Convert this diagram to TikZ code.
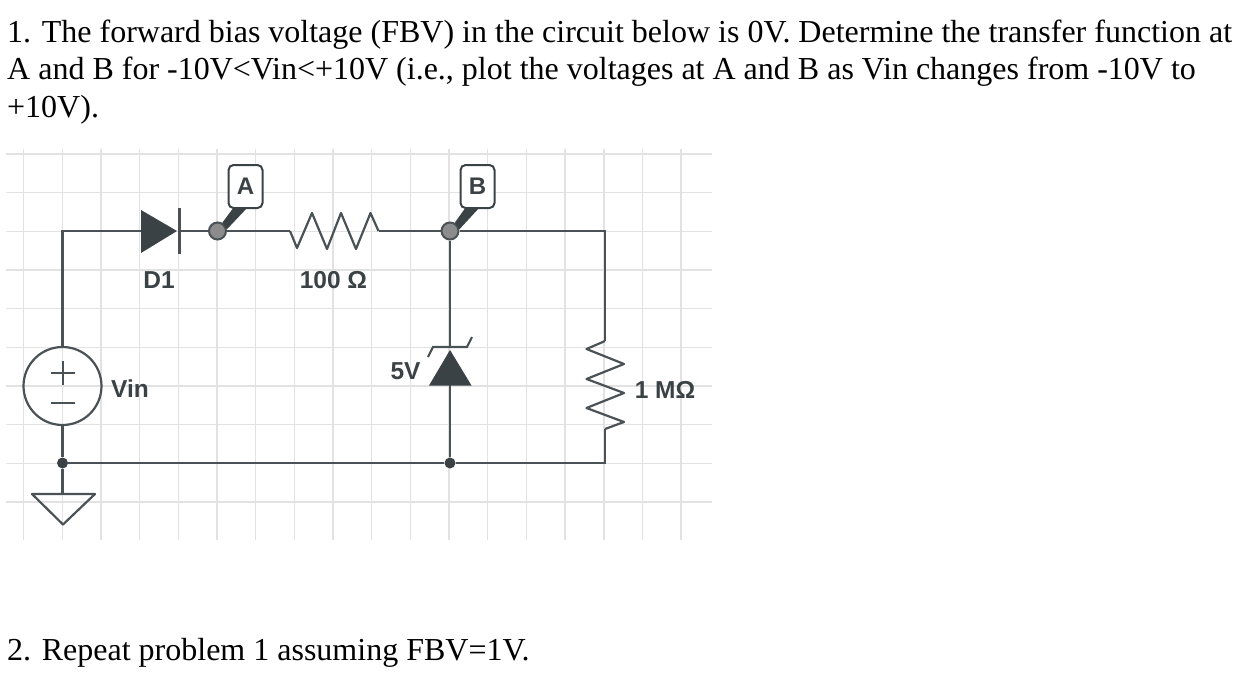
\documentclass[tikz,border=0pt]{standalone}
\usepackage{fontspec}
\setmainfont{Liberation Serif}
\newfontfamily\partfont{Liberation Sans}[BoldFont={Liberation Sans Bold}]
\definecolor{wirecol}{HTML}{4A5256}
\definecolor{darkcol}{HTML}{3B4245}
\definecolor{gridcol}{HTML}{E2E2E2}
\definecolor{dotcol}{HTML}{8C8C8C}
\tikzset{
    wire/.style={draw=wirecol, line width=2.4pt},
    thinwire/.style={draw=wirecol, line width=2.2pt},
    question/.style={anchor=base west, inner sep=0pt, font=\fontsize{32}{38}\selectfont},
    partlabel/.style={inner sep=0pt, text=darkcol, font=\partfont\bfseries\fontsize{24.5}{28}\selectfont},
    probe/.style={draw=darkcol, line width=2pt, fill=white, rounded corners=5pt, minimum width=34pt, minimum height=43pt, inner sep=0pt, text=darkcol, font=\partfont\bfseries\fontsize{24}{28}\selectfont},
    probedot/.style={circle, draw=wirecol, line width=2pt, fill=dotcol, minimum size=17pt, inner sep=0pt},
    junction/.style={circle, fill=darkcol, minimum size=11pt, inner sep=0pt},
    vsource/.style={circle, draw=wirecol, line width=2.2pt, minimum size=78pt, inner sep=0pt}
}
\begin{document}
\begin{tikzpicture}[x=1pt, y=-1pt]
        \useasboundingbox (0,0) rectangle (1244,680);

        % Question
        \node[question] (qa) at (7,42) {1. The forward bias voltage (FBV) in the circuit below is 0V. Determine the transfer function at};
        \node[question] (qb) at (7,79) {A and B for -10V<Vin<+10V (i.e., plot the voltages at A and B as Vin changes from -10V to};
        \node[question] (qc) at (7,117) {+10V).};
        \node[question] (qd) at (7,660) {2. Repeat problem 1 assuming FBV=1V.};

        % Grid
        \foreach \i in {0,...,17}
            \draw[gridcol, line width=1.5pt] ({23.7+38.67*\i},149) -- ({23.7+38.67*\i},540);
        \foreach \j in {0,...,9}
            \draw[gridcol, line width=1.5pt] (6,{154+38.67*\j}) -- (712,{154+38.67*\j});

        % Corners
        \coordinate (tl) at (62.5,231);
        \coordinate (tr) at (605,231);
        \coordinate (br) at (605,463);
        \coordinate (gndtop) at (62.5,494);
        \coordinate (diodein) at (141,231);
        \coordinate (diodeout) at (179.5,231);
        \coordinate (r1in) at (290,231);
        \coordinate (r1out) at (378.5,231);
        \coordinate (r2in) at (605,341);
        \coordinate (r2out) at (605,429);
        \coordinate (zentop) at (450,347);
        \coordinate (zenbase) at (450,385);

        % Nodes
        \node[vsource] (vin) at (62.5,386) {};
        \node[probedot] (nodeA) at (217.5,231) {};
        \node[probedot] (nodeB) at (450,231) {};
        \node[junction] (jl) at (62.5,463) {};
        \node[junction] (jr) at (450,463) {};

        % Wires
        \draw[wire] (vin) -- (tl) -- (diodein);
        \draw[wire] (diodeout) -- (nodeA) -- (r1in);
        \draw[wire] (r1out) -- (nodeB) -- (tr) -- (r2in);
        \draw[wire] (nodeB) -- (zentop);
        \draw[wire] (zenbase) -- (jr);
        \draw[wire] (vin) -- (jl) -- (gndtop);
        \draw[wire] (jl) -- (jr) -- (br) -- (r2out);

        % Resistors
        \draw[thinwire, line join=round] (r1in) -- (297,248) -- (312,213) -- (327,249) -- (341,213) -- (356,249) -- (370.5,213) -- (r1out);
        \draw[thinwire, line join=round] (r2in) -- (586.5,349) -- (624,364) -- (586.5,379) -- (624,393) -- (586.5,408) -- (624,422) -- (r2out);

        % Diode
        \fill[darkcol] (141,210) -- (177,231) -- (141,253) -- cycle;
        \draw[wire] (179.5,208) -- (179.5,254);

        % Zener
        \fill[darkcol] (450,350) -- (471.5,385.5) -- (429,385.5) -- cycle;
        \draw[thinwire] (428,357) -- (433,347) -- (467,347) -- (472,337);

        % Source
        \draw[thinwire] (51,373) -- (75,373);
        \draw[thinwire] (63,361) -- (63,385);
        \draw[thinwire] (51,403) -- (75,403);

        % Ground
        \draw[thinwire, line join=round] (32,494) -- (95,494) -- (63,524.5) -- cycle;

        % Probes
        \node[probe] (probeA) at (245.5,186.5) {A};
        \node[probe] (probeB) at (477.5,186.5) {B};
        \fill[darkcol] (nodeA.60) -- (234,207) -- (248,207) -- (nodeA.10) -- cycle;
        \fill[darkcol] (nodeB.60) -- (466,207) -- (480,207) -- (nodeB.10) -- cycle;

        % Labels
        \node[partlabel] (lblD) at (159,280) {D1};
        \node[partlabel] (lblR) at (333.5,280) {100 Ω};
        \node[partlabel] (lblZ) at (405.5,371) {5V};
        \node[partlabel] (lblV) at (130,389) {Vin};
        \node[partlabel] (lblM) at (665,390) {1 MΩ};
\end{tikzpicture}
\end{document}
